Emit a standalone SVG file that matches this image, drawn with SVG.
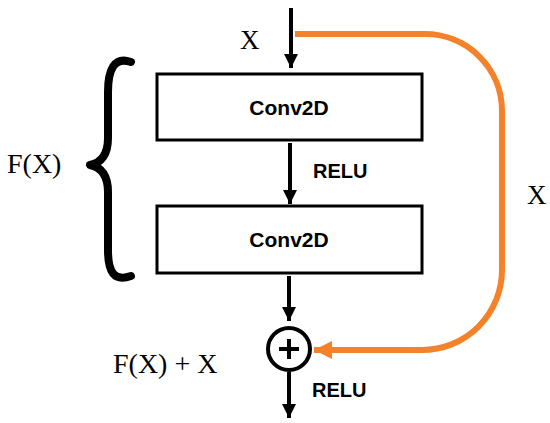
<svg xmlns="http://www.w3.org/2000/svg" width="550" height="423" viewBox="0 0 550 423">
<defs>
<marker id="ah" viewBox="0 0 10 10" refX="10" refY="5" markerWidth="3.6" markerHeight="3.6" orient="auto" markerUnits="strokeWidth">
<path d="M0,0 L10,5 L0,10 Z" fill="#000"/>
</marker>
<marker id="ao" viewBox="0 0 10 10" refX="10" refY="5" markerWidth="3" markerHeight="3.2" orient="auto" markerUnits="strokeWidth">
<path d="M0,0 L10,5 L0,10 Z" fill="#F5822A"/>
</marker>
</defs>
<style>
.box{fill:#fff;stroke:#000;stroke-width:3}
.lbl{font-family:"Liberation Sans",Arial,sans-serif;font-weight:bold;font-size:20px;fill:#000}
.cv{font-size:21px}
.ser{font-family:"Liberation Serif","Times New Roman",serif;font-size:27px;fill:#000}
.ar{stroke:#000;stroke-width:4;fill:none}
</style>
<rect width="550" height="423" fill="#fff"/>
<g id="brace">
<path d="M131,62 C114,56 108,70 108,92 L108,138 C108,156 100,163 90,165 C100,167 108,174 108,192 L108,250 C108,272 114,282 131,276" fill="none" stroke="#000" stroke-width="8" stroke-linecap="round" stroke-linejoin="round"/>
</g>
<g id="conv1">
<rect class="box" x="157" y="74" width="265" height="66"/>
<text class="lbl cv" x="289" y="115" text-anchor="middle">Conv2D</text>
</g>
<g id="conv2">
<rect class="box" x="157" y="206" width="265" height="67"/>
<text class="lbl cv" x="289" y="247" text-anchor="middle">Conv2D</text>
</g>
<g id="add">
<circle cx="289" cy="349" r="21" fill="#fff" stroke="#000" stroke-width="4"/>
<path d="M289,339 V359 M279,349 H299" stroke="#000" stroke-width="4"/>
</g>
<g id="connectors">
<line class="ar" x1="291" y1="8" x2="291" y2="68" marker-end="url(#ah)"/>
<line class="ar" x1="290" y1="143" x2="290" y2="204" marker-end="url(#ah)"/>
<line class="ar" x1="289" y1="276" x2="289" y2="321" marker-end="url(#ah)"/>
<line class="ar" x1="289" y1="372" x2="289" y2="418" marker-end="url(#ah)"/>
<path d="M295,34 H425 A77,77 0 0 1 502,111 V270 A80,80 0 0 1 422,350 H314" fill="none" stroke="#F5822A" stroke-width="6" marker-end="url(#ao)"/>
</g>
<g id="labels">
<text class="ser" x="240" y="49">X</text>
<text class="ser" x="527" y="204">X</text>
<text class="ser" x="7" y="173" style="font-size:28px">F(X)</text>
<text class="ser" x="113" y="373" style="font-size:28px">F(X) + X</text>
<text class="lbl" x="313" y="178">RELU</text>
<text class="lbl" x="312" y="397">RELU</text>
</g>
</svg>
